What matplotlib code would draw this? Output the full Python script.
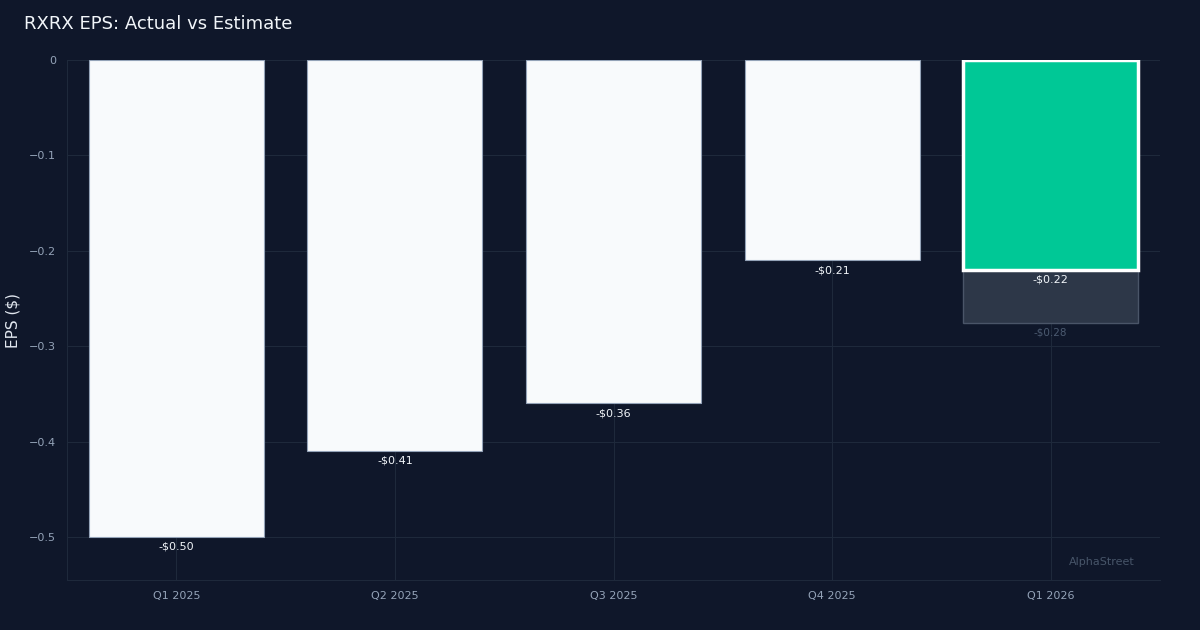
import matplotlib
matplotlib.use("Agg")
import matplotlib.pyplot as plt
from matplotlib.ticker import FuncFormatter
import numpy as np

# ------------------------------
# DATA
# ------------------------------
quarters = ["Q1 2025", "Q2 2025", "Q3 2025", "Q4 2025", "Q1 2026"]
eps_actual = [-0.50, -0.41, -0.36, -0.21, -0.22]
eps_estimate = [None, None, None, None, -0.276]
highlight = "Q1 2026"

BG = "#0f172a"
GRID = "#1e293b"

fig = plt.figure(figsize=(12, 6.3), dpi=100, facecolor=BG)
ax = fig.add_axes([0.0558, 0.0794, 0.9109, 0.8254])
ax.set_facecolor(BG)

x = np.arange(len(quarters))

# estimate bars (behind)
for i, est in enumerate(eps_estimate):
    if est is None:
        continue
    ax.bar(x[i], est, width=0.8, color="#2d3748", edgecolor="#4a5568",
           linewidth=1, zorder=2)
    ax.text(x[i], est - 0.004, f"-\\${abs(est):.2f}", ha="center", va="top",
            fontsize=7.5, color="#4b5a70", zorder=5)

# actual bars
for i, val in enumerate(eps_actual):
    if quarters[i] == highlight:
        ax.bar(x[i], val, width=0.8, color="#00c896", edgecolor="#ffffff",
               linewidth=2.5, zorder=3)
    else:
        ax.bar(x[i], val, width=0.8, color="#f8fafc", edgecolor="#94a3b8",
               linewidth=0.8, zorder=3)
    ax.text(x[i], val - 0.005, f"-\\${abs(val):.2f}", ha="center", va="top",
            fontsize=8, color="#f1f5f9", zorder=5)

ax.set_xlim(-0.5, len(quarters) - 0.5)
ax.set_ylim(-0.545, 0)
ax.set_xticks(x)
ax.set_xticklabels(quarters)
ax.set_yticks([0, -0.1, -0.2, -0.3, -0.4, -0.5])
ax.yaxis.set_major_formatter(FuncFormatter(
    lambda v, p: "0" if abs(v) < 1e-9 else f"{v:.1f}".replace("-", "\u2212")))
ax.tick_params(colors="#94a3b8", labelsize=8, length=0, pad=8)
ax.grid(True, color=GRID, linewidth=0.8, zorder=0)
ax.set_axisbelow(True)
for s in ["top", "right"]:
    ax.spines[s].set_visible(False)
for s in ["left", "bottom"]:
    ax.spines[s].set_color(GRID)

fig.text(0.011, 0.492, "EPS (\\$)", color="#e2e8f0", fontsize=11,
         rotation=90, ha="center", va="center")

fig.text(0.02, 0.962, "RXRX EPS: Actual vs Estimate", color="#f1f5f9",
         fontsize=13, va="center", ha="left")
ax.text(0.977, 0.035, "AlphaStreet", transform=ax.transAxes, ha="right",
        va="center", fontsize=8, color="#475569")

plt.savefig("out.png", dpi=100, facecolor=BG)
